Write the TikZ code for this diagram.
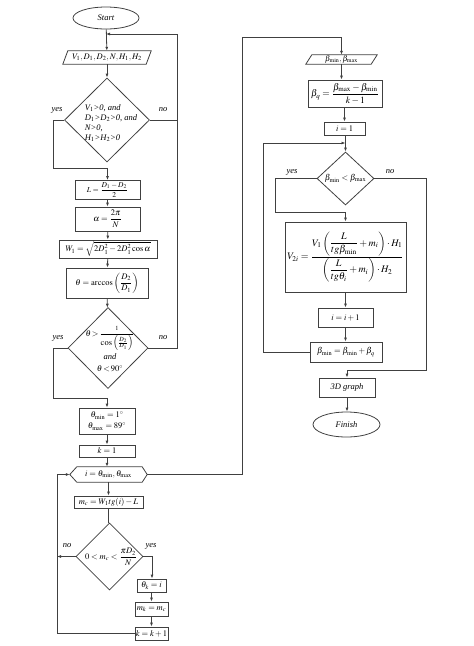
\documentclass[tikz,border=0pt]{standalone}
\usepackage{mathptmx}
\usepackage{amsmath}
\usepackage{fontspec}
\setmainfont{Liberation Serif}
\usetikzlibrary{shapes.geometric,arrows.meta,calc}
\begin{document}
\begin{tikzpicture}[x=1pt,y=-1pt,
  ln/.style={draw=black!75, line width=0.8pt},
  arr/.style={ln, -{Latex[length=4pt,width=3pt]}},
  base/.style={font=\fontsize{8.5}{10}\selectfont, inner sep=0pt, align=center},
  box/.style={base, ln, rectangle},
  inv/.style={base, rectangle},
  ell/.style={base, ln, ellipse},
  dia/.style={base, ln, diamond},
  lab/.style={base, font=\fontsize{8.5}{10}\selectfont\itshape}
]
\useasboundingbox (0,0) rectangle (474,646);

% ---------------- left column ----------------
\node[ell, minimum width=66pt, minimum height=22pt] (start) at (106,18) {\itshape Start};

\node[inv, minimum width=88pt, minimum height=13pt] (inp) at (107,57.5) {$V_1,D_1,D_2,N,H_1,H_2$};
\draw[ln] ([xshift=5pt]inp.north west) -- (inp.north east) -- ([xshift=-5pt]inp.south east) -- (inp.south west) -- cycle;

\node[dia, minimum width=85pt, minimum height=84pt] (d1) at (107,120) {};
\node[base, font=\fontsize{8.5}{10}\selectfont\itshape, align=left] (d1t) at (111,123) {V$_1$>0, and\\D$_1$>D$_2$>0, and\\N>0,\\H$_1$>H$_2$>0};
\node[lab] (y1) at (57,110) {yes};
\node[lab] (n1) at (163,110) {no};

\node[box, minimum width=65pt, minimum height=19pt] (Lb) at (107.5,190) {\fontsize{7.5}{8}\selectfont$L=\dfrac{D_1-D_2}{2}$};
\node[box, minimum width=65pt, minimum height=24pt] (al) at (107.5,219) {$\alpha=\dfrac{2\pi}{N}$};
\node[box, minimum width=98pt, minimum height=18pt] (W1) at (108,249) {$W_1=\sqrt{2D_1^2-2D_1^2\cos\alpha}$};
\node[box, minimum width=82pt, minimum height=30pt] (th) at (107,283) {$\theta=\arccos\left(\dfrac{D_2}{D_1}\right)$};

\node[dia, minimum width=80pt, minimum height=81pt] (d2) at (108,348) {};
\node[base] (d2t) at (110,349) {$\theta\!>\!\dfrac{\scriptstyle 1}{\cos\left(\frac{D_2}{D_1}\right)}$\\[2pt]\itshape and\\[2pt]$\theta\!<\!90^\circ$};
\node[lab] (y2) at (58,338) {yes};
\node[lab] (n2) at (163,338) {no};

\node[box, minimum width=56pt, minimum height=26pt] (tm) at (107,421) {$\theta_{\min}=1^\circ$\\[1pt]$\theta_{\max}=89^\circ$};
\node[box, minimum width=56pt, minimum height=12pt] (k1) at (107,451) {$k=1$};

\node[inv, minimum width=77pt, minimum height=15pt] (hex) at (108.5,474.5) {$i=\theta_{\min},\theta_{\max}$};
\draw[ln] (hex.west) -- ([xshift=7pt]hex.north west) -- ([xshift=-5pt]hex.north east) -- (hex.east) -- ([xshift=-5pt]hex.south east) -- ([xshift=7pt]hex.south west) -- cycle;

\node[box, minimum width=69pt, minimum height=12pt] (mc) at (108.5,502) {$m_c=W_1tg(i)-L$};

\node[dia, minimum width=67pt, minimum height=67pt] (d3) at (109.5,556.5) {};
\node[base] (d3t) at (111,557) {$0<m_c<\dfrac{\pi D_2}{N}$};
\node[lab] (n3) at (67,546) {no};
\node[lab] (y3) at (151,546) {yes};

\node[box, minimum width=29pt, minimum height=13pt] (thk) at (151.5,585.5) {$\theta_k=i$};
\node[box, minimum width=33pt, minimum height=14pt] (mk) at (151.5,609) {$m_k=m_c$};
\node[box, minimum width=33pt, minimum height=13pt] (kk) at (151.5,633.5) {$k=k+1$};

% ---------------- right column ----------------
\node[inv, minimum width=71pt, minimum height=9pt] (bin) at (341.5,59.5) {\fontsize{8}{9}\selectfont$\beta_{\min},\beta_{\max}$};
\draw[ln] ([xshift=6pt]bin.north west) -- (bin.north east) -- ([xshift=-6pt]bin.south east) -- (bin.south west) -- cycle;

\node[box, minimum width=74pt, minimum height=27pt] (bq) at (345,93.5) {\fontsize{9.5}{11}\selectfont$\beta_q=\dfrac{\beta_{\max}-\beta_{\min}}{k-1}$};
\node[box, minimum width=41pt, minimum height=13pt] (i1) at (344.5,128.5) {$i=1$};

\node[dia, minimum width=57pt, minimum height=53pt] (d4) at (345.5,178.5) {};
\node[base] (d4t) at (345.5,178.5) {$\beta_{\min}<\beta_{\max}$};
\node[lab] (y4) at (292,172) {yes};
\node[lab] (n4) at (390,172) {no};

\node[box, minimum width=121pt, minimum height=70pt] (V) at (345.5,257) {\fontsize{10}{12}\selectfont$V_{2i}=\dfrac{V_1\left(\dfrac{L}{tg\beta_{\min}}+m_i\right)\cdot H_1}{\left(\dfrac{L}{tg\theta_i}+m_i\right)\cdot H_2}$};
\node[box, minimum width=55pt, minimum height=19pt] (ip) at (345.5,317.5) {$i=i+1$};
\node[box, minimum width=72pt, minimum height=20pt] (bm) at (346,352) {$\beta_{\min}=\beta_{\min}+\beta_q$};
\node[box, minimum width=56pt, minimum height=19pt] (g3) at (347,387.5) {\itshape 3D graph};
\node[ell, minimum width=67pt, minimum height=25pt] (fin) at (346.5,424.5) {\itshape Finish};

% ---------------- coordinates ----------------
\coordinate (rl) at (177,34);
\coordinate (j1) at (start.south |- rl);
\coordinate (yl1) at (53,168);
\coordinate (yl2) at (53,398);
\coordinate (ll) at (57,474.5);
\coordinate (bl) at (242,37);
\coordinate (lp) at (263,143);
\coordinate (yl4) at (275,212);
\coordinate (nl4) at (426,370);
\coordinate (yl3) at (152,556.5);

% ---------------- connectors left ----------------
\draw[arr] (start) -- (inp);
\draw[arr] (inp) -- (d1);
\draw[ln] (d1.east) -- (d1.east -| rl);
\draw[arr] (d2.east) -- (d2.east -| rl) -- (rl) -- (j1);
\draw[arr] (d1.west) -- (d1.west -| yl1) -- (yl1) -- (yl1 -| Lb.north) -- (Lb.north);
\draw[arr] (Lb) -- (al);
\draw[arr] (al) -- (W1);
\draw[arr] (W1) -- (th);
\draw[arr] (th) -- (d2);
\draw[arr] (d2.west) -- (d2.west -| yl2) -- (yl2) -- (yl2 -| tm.north) -- (tm.north);
\draw[arr] (tm) -- (k1);
\draw[arr] (k1) -- (k1.south |- hex.north);
\draw[arr] (hex.south -| mc.north) -- (mc);
\draw[ln] (mc) -- (mc.south |- d3.north);
\draw[arr] (d3.west) -- (d3.west -| ll);
\draw[arr] (d3.east) -- (yl3) -- (yl3 |- thk.north);
\draw[arr] (thk) -- (mk);
\draw[arr] (mk) -- (kk);
\draw[arr] (kk.west) -- (kk.west -| ll) -- (ll) -- (hex.west);

% ---------------- connectors right ----------------
\draw[arr] (hex.east) -- (hex.east -| bl) -- (bl) -- (bl -| bin.north) -- (bin.north);
\draw[arr] (bin) -- (bin.south |- bq.north);
\draw[arr] (bq.south -| i1.north) -- (i1);
\draw[arr] (i1.south -| d4.north) -- (d4.north);
\draw[arr] (bm.west) -- (bm.west -| lp) -- (lp) -- (lp -| d4.north);
\draw[arr] (d4.west) -- (d4.west -| yl4) -- (yl4) -- (yl4 -| V.north) -- (V.north);
\draw[arr] (d4.east) -- (d4.east -| nl4) -- (nl4) -- (nl4 -| g3.north) -- (g3.north);
\draw[arr] (V.south -| ip.north) -- (ip);
\draw[arr] (ip) -- (ip.south |- bm.north);
\draw[arr] (g3) -- (g3.south |- fin.north);
\end{tikzpicture}
\end{document}
